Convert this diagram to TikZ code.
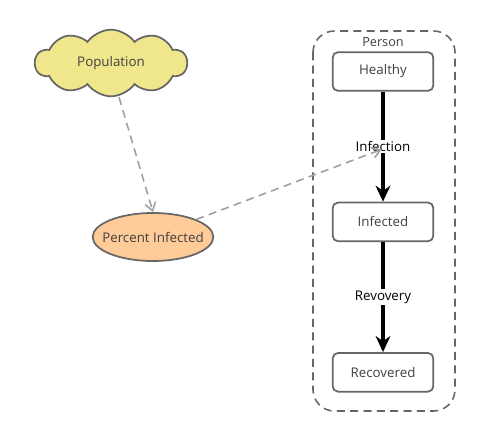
\documentclass[tikz,border=0pt]{standalone}
\usepackage{fontspec}
\setmainfont{Open Sans}
\usepackage{tikz}
\usetikzlibrary{positioning}
\usetikzlibrary{shapes,arrows.meta}
\usepackage{xcolor}
\definecolor{edge}{HTML}{666666}
\definecolor{khaki}{HTML}{F0E68C}
\definecolor{peach}{HTML}{FFCC99}
\definecolor{link}{HTML}{A0A0A0}

\begin{document}
\begin{tikzpicture}
[x=0.75pt, y=-0.75pt, node distance=82.5pt,
% The state style is used to draw the states of a person
state/.style={rectangle, rounded corners=4pt, draw=edge, line width=1.3pt, fill=white, minimum width=75.5pt, minimum height=29pt, font=\fontsize{10}{12}\selectfont, text=black!75},
% The flow style is used for the transitions between states
flow/.style={line width=3pt, -{Stealth[length=12pt, width=11pt]}},
% The influence style is used for the dashed links
influence/.style={draw=link, line width=1.2pt, dash pattern=on 6pt off 4pt, -{Straight Barb[length=6pt, width=8pt]}},
rate/.style={fill=white, inner sep=1pt, font=\fontsize{10}{12}\selectfont}
]
\useasboundingbox (0,0) rectangle (478,434);
% Draw the container
\draw [edge, line width=1.2pt, dash pattern=on 6pt off 4pt, rounded corners=16pt] (313,31) rectangle (455,411);
\node [font=\fontsize{9.5}{11}\selectfont, text=black!75] (person) at (383,42) {Person};
% Draw states
\node [state] (healthy) at (383,71.5) {Healthy};
\node [state, below=of healthy] (infected) {Infected};
\node [state, below=of infected] (recovered) {Recovered};
\draw [flow] (healthy) -- (infected) node [rate, midway] (infection) {Infection};
\draw [flow] (infected) -- (recovered) node [rate, midway] (recovery) {Revovery};
\coordinate (target) at ([xshift=-1pt, yshift=-2pt]infection.center);
% Draw auxiliaries
\node [cloud, cloud puffs=10, cloud puff arc=110, cloud ignores aspect, draw=edge, line width=1.3pt, fill=khaki, minimum width=114pt, minimum height=50pt, font=\fontsize{10}{12}\selectfont, text=black!75] (population) at (111,63) {Population};
\node [ellipse, draw=edge, line width=1.3pt, fill=peach, minimum width=90.5pt, minimum height=36pt, inner xsep=-8pt, font=\fontsize{10}{12}\selectfont, text=black!75] (percent) at (153,237) {Percent Infected};
\draw [influence] (population.south) ++(8,0) -- (percent.north);
\draw [influence] (percent.north east) -- (target);
\end{tikzpicture}
\end{document}
